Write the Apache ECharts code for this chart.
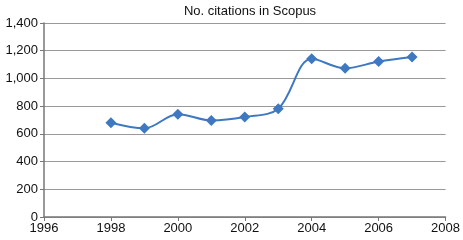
<!DOCTYPE html>
<html><head><meta charset="utf-8">
<script src="https://cdn.jsdelivr.net/npm/echarts@6/dist/echarts.min.js"></script>
<style>html,body{margin:0;padding:0;background:#fff}#c{width:463px;height:240px}</style>
</head><body><div id="c"></div>
<script>
const title = "No. citations in Scopus";
const years = [1998, 1999, 2000, 2001, 2002, 2003, 2004, 2005, 2006, 2007];
const citations = [680, 640, 742, 697, 722, 782, 1142, 1073, 1122, 1155];
const xTicks = [1996, 1998, 2000, 2002, 2004, 2006, 2008];
const yTicks = [0, 200, 400, 600, 800, 1000, 1200, 1400];

const chart = echarts.init(document.getElementById('c'), null, {renderer: 'canvas'});
const font = 'Liberation Sans, Arial, sans-serif';
chart.setOption({
  animation: false,
  title: {text: title, left: 245, top: 0, textAlign: 'center',
    textStyle: {fontFamily: font, fontSize: 13, fontWeight: 'normal', color: '#111'}},
  grid: {left: 44, right: 16, top: 23, bottom: 23},
  xAxis: {
    type: 'value', min: xTicks[0], max: xTicks[xTicks.length - 1], interval: 2,
    axisLine: {show: true, lineStyle: {color: '#777', width: 1.5}},
    axisTick: {show: true, length: 4, lineStyle: {color: '#777'}},
    splitLine: {show: false},
    axisLabel: {fontFamily: font, fontSize: 13, color: '#111', margin: 5, formatter: v => String(v)},
  },
  yAxis: {
    type: 'value', min: yTicks[0], max: yTicks[yTicks.length - 1], interval: 200,
    axisLine: {show: true, lineStyle: {color: '#777', width: 1.5}},
    axisTick: {show: true, length: 4, lineStyle: {color: '#777'}},
    splitLine: {show: true, lineStyle: {color: '#999', width: 1.2}},
    axisLabel: {fontFamily: font, fontSize: 13, color: '#111', margin: 6,
      formatter: v => v.toLocaleString('en-US')},
  },
  series: [{
    type: 'line', smooth: 0.35,
    data: years.map((y, i) => [y, citations[i]]),
    symbol: 'diamond', symbolSize: 11,
    lineStyle: {color: '#3d78c1', width: 2},
    itemStyle: {color: '#3d78c1'},
  }]
});
</script></body></html>
